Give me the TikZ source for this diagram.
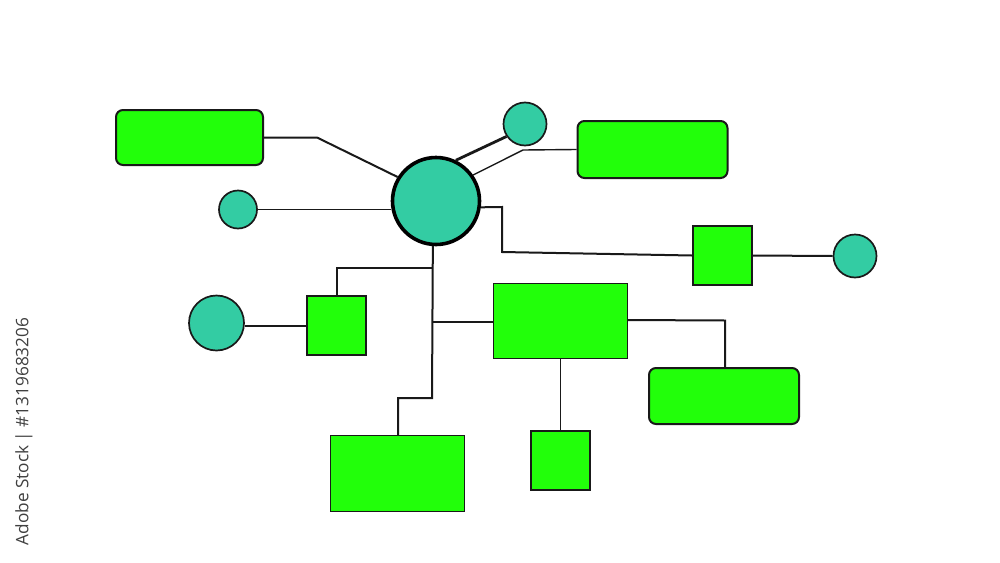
\documentclass[tikz,border=0pt]{standalone}
\usepackage{fontspec}
\setmainfont{Open Sans}
\definecolor{lime}{HTML}{22FF0A}
\definecolor{teal2}{HTML}{33CCA3}
\tikzset{
  px/.style={x=1pt,y=-1pt},
  rrbox/.style={draw=black!90,line width=2pt,fill=lime,rounded corners=7pt,inner sep=0pt},
  rectbox/.style={draw=black!90,line width=1.3pt,fill=lime,inner sep=0pt},
  sqbox/.style={draw=black!90,line width=2.2pt,fill=lime,inner sep=0pt,minimum width=59pt,minimum height=59pt},
  dot/.style={circle,draw=black!90,line width=1.7pt,fill=teal2,inner sep=0pt},
  hubdot/.style={circle,draw=black,line width=3.6pt,fill=teal2,inner sep=0pt,minimum size=87pt},
  thin link/.style={draw=black!90,line width=1.4pt},
  mid link/.style={draw=black!90,line width=2pt},
  thick link/.style={draw=black!90,line width=2.8pt},
}
\begin{document}
\begin{tikzpicture}[px]
\useasboundingbox (0,0) rectangle (1000,562);
\fill[white] (0,0) rectangle (1000,562);
% nodes
\node[hubdot] (hub) at (436,201) {};
\node[rrbox,minimum width=147pt,minimum height=55pt] (rrA) at (189.5,137.5) {};
\node[rrbox,minimum width=150pt,minimum height=57pt] (rrB) at (652.5,149.5) {};
\node[rrbox,minimum width=150pt,minimum height=56pt] (rrC) at (724,396) {};
\node[dot,minimum size=43pt] (cTop) at (525,124) {};
\node[dot,minimum size=38pt] (cLeft) at (238,209.5) {};
\node[dot,minimum size=43pt] (cRight) at (855,256) {};
\node[dot,minimum size=55pt] (cLow) at (216.5,323) {};
\node[sqbox] (sqRight) at (722.5,255.5) {};
\node[sqbox] (sqLow) at (336.5,325.5) {};
\node[sqbox] (sqBot) at (560.5,460.5) {};
\node[rectbox,minimum width=134.5pt,minimum height=75.5pt] (rectMid) at (560.5,321) {};
\node[rectbox,minimum width=134.5pt,minimum height=75.5pt] (rectBot) at (397.5,473.5) {};
% bend points
\coordinate (bA) at (317,137.5);
\coordinate (bB) at (523,150);
\coordinate (bR1) at (502,207);
\coordinate (bR2) at (502,252);
\coordinate (jLow) at (432.5,268);
\coordinate (jMid) at (432.5,322);
\coordinate (bD1) at (432,398);
\coordinate (bD2) at (398,398);
\coordinate (bL) at (337,268);
\coordinate (bM) at (725,320.5);
\coordinate (mOut) at (628,320);
% connectors
\draw[mid link] (rrA.east) -- (bA) -- (hub.148);
\draw[thick link] (cTop.214) -- (hub.64);
\draw[thin link] (rrB.west) -- (bB) -- (hub.35);
\draw[thin link] (cLeft.east) -- (hub.west |- cLeft.east);
\draw[mid link] (hub.-8) -- (bR1) -- (bR2) -- (sqRight.west);
\draw[mid link] (sqRight.east) -- (cRight.west);
\draw[mid link] (hub.266) -- (bD1) -- (bD2) -- (bD2 |- rectBot.north);
\draw[thin link] (jLow) -- (bL) -- (bL |- sqLow.north);
\draw[thin link] (jMid) -- (jMid -| rectMid.west);
\draw[mid link] (cLow.east |- sqLow.west) -- (sqLow.west);
\draw[mid link] (mOut) -- (bM) -- (bM |- rrC.north);
\draw[thin link] (rectMid.south) -- (sqBot.north);
% side label
\node[rotate=90,text=black!75,font=\fontsize{17.2pt}{20pt}\selectfont,inner sep=0pt] (side) at (24,431.5) {Adobe Stock | \#1319683206};
\end{tikzpicture}
\end{document}
